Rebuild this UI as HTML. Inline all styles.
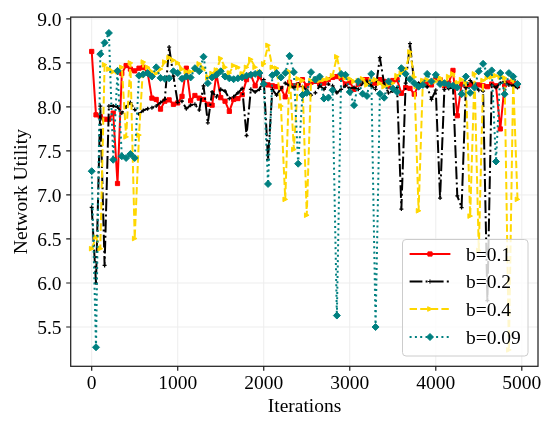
<!DOCTYPE html>
<html lang="en"><head><meta charset="utf-8"><title>Network Utility vs Iterations</title>
<style>html,body{margin:0;padding:0;background:#fff}body{width:550px;height:422px;overflow:hidden}svg{display:block}</style>
</head><body>
<svg width="550" height="422" viewBox="0 0 550 422">
<rect width="550" height="422" fill="#fff"/>
<path d="M91.7 17.1V366.3M177.72 17.1V366.3M263.74 17.1V366.3M349.76 17.1V366.3M435.78 17.1V366.3M521.8 17.1V366.3M70.7 18.9H538.0M70.7 62.91H538.0M70.7 106.93H538.0M70.7 150.95H538.0M70.7 194.96H538.0M70.7 238.97H538.0M70.7 282.99H538.0M70.7 327H538.0" stroke="#ededed" stroke-width="1" fill="none"/>
<clipPath id="c"><rect x="70.7" y="17.1" width="467.3" height="349.2"/></clipPath>
<g clip-path="url(#c)" fill="none" stroke-width="2" stroke-linejoin="round">
<polyline points="91.7,51.47 96,114.85 100.3,116.61 104.6,119.25 108.9,119.25 113.21,113.09 117.51,183.52 121.81,73.48 126.11,65.56 130.41,69.08 134.71,70.84 139.01,68.2 143.31,67.32 147.61,72.6 151.91,98.13 156.22,99.45 160.52,109.13 164.82,101.21 169.12,99.89 173.42,104.29 177.72,102.97 182.02,96.37 186.32,68.2 190.62,100.77 194.92,95.49 199.23,98.13 203.53,99.45 207.83,104.29 212.13,105.17 216.43,73.92 220.73,97.69 225.03,101.21 229.33,111.33 233.63,99.45 237.93,98.57 242.24,94.61 246.54,79.64 250.84,74.8 255.14,85.8 259.44,76.56 263.74,84.04 268.04,84.92 272.34,85.8 276.64,86.68 280.94,88.44 285.25,96.81 289.55,82.28 293.85,85.8 298.15,84.92 302.45,79.64 306.75,85.8 311.05,82.28 315.35,81.4 319.65,84.04 323.95,83.16 328.25,79.64 332.56,77.44 336.86,76.56 341.16,78.32 345.46,84.04 349.76,82.28 354.06,89.32 358.36,84.04 362.66,79.64 366.96,79.64 371.26,83.16 375.57,83.16 379.87,79.64 384.17,81.4 388.47,86.68 392.77,80.52 397.07,79.64 401.37,93.29 405.67,87.56 409.97,88.44 414.27,94.17 418.58,84.92 422.88,81.4 427.18,84.04 431.48,84.92 435.78,79.64 440.08,79.64 444.38,85.8 448.68,83.16 452.98,70.4 457.29,115.73 461.59,84.04 465.89,85.8 470.19,84.92 474.49,84.92 478.79,84.92 483.09,85.8 487.39,86.68 491.69,84.04 495.99,85.8 500.3,128.94 504.6,84.92 508.9,82.28 513.2,83.16 517.5,85.8" stroke="#ff0000"/>
<path d="M89.6 49.37h4.2v4.2h-4.2zM93.9 112.75h4.2v4.2h-4.2zM98.2 114.51h4.2v4.2h-4.2zM102.5 117.15h4.2v4.2h-4.2zM106.8 117.15h4.2v4.2h-4.2zM111.11 110.99h4.2v4.2h-4.2zM115.41 181.42h4.2v4.2h-4.2zM119.71 71.38h4.2v4.2h-4.2zM124.01 63.46h4.2v4.2h-4.2zM128.31 66.98h4.2v4.2h-4.2zM132.61 68.74h4.2v4.2h-4.2zM136.91 66.1h4.2v4.2h-4.2zM141.21 65.22h4.2v4.2h-4.2zM145.51 70.5h4.2v4.2h-4.2zM149.81 96.03h4.2v4.2h-4.2zM154.12 97.35h4.2v4.2h-4.2zM158.42 107.03h4.2v4.2h-4.2zM162.72 99.11h4.2v4.2h-4.2zM167.02 97.79h4.2v4.2h-4.2zM171.32 102.19h4.2v4.2h-4.2zM175.62 100.87h4.2v4.2h-4.2zM179.92 94.27h4.2v4.2h-4.2zM184.22 66.1h4.2v4.2h-4.2zM188.52 98.67h4.2v4.2h-4.2zM192.82 93.39h4.2v4.2h-4.2zM197.13 96.03h4.2v4.2h-4.2zM201.43 97.35h4.2v4.2h-4.2zM205.73 102.19h4.2v4.2h-4.2zM210.03 103.07h4.2v4.2h-4.2zM214.33 71.82h4.2v4.2h-4.2zM218.63 95.59h4.2v4.2h-4.2zM222.93 99.11h4.2v4.2h-4.2zM227.23 109.23h4.2v4.2h-4.2zM231.53 97.35h4.2v4.2h-4.2zM235.83 96.47h4.2v4.2h-4.2zM240.14 92.51h4.2v4.2h-4.2zM244.44 77.54h4.2v4.2h-4.2zM248.74 72.7h4.2v4.2h-4.2zM253.04 83.7h4.2v4.2h-4.2zM257.34 74.46h4.2v4.2h-4.2zM261.64 81.94h4.2v4.2h-4.2zM265.94 82.82h4.2v4.2h-4.2zM270.24 83.7h4.2v4.2h-4.2zM274.54 84.58h4.2v4.2h-4.2zM278.84 86.34h4.2v4.2h-4.2zM283.14 94.71h4.2v4.2h-4.2zM287.45 80.18h4.2v4.2h-4.2zM291.75 83.7h4.2v4.2h-4.2zM296.05 82.82h4.2v4.2h-4.2zM300.35 77.54h4.2v4.2h-4.2zM304.65 83.7h4.2v4.2h-4.2zM308.95 80.18h4.2v4.2h-4.2zM313.25 79.3h4.2v4.2h-4.2zM317.55 81.94h4.2v4.2h-4.2zM321.85 81.06h4.2v4.2h-4.2zM326.15 77.54h4.2v4.2h-4.2zM330.46 75.34h4.2v4.2h-4.2zM334.76 74.46h4.2v4.2h-4.2zM339.06 76.22h4.2v4.2h-4.2zM343.36 81.94h4.2v4.2h-4.2zM347.66 80.18h4.2v4.2h-4.2zM351.96 87.22h4.2v4.2h-4.2zM356.26 81.94h4.2v4.2h-4.2zM360.56 77.54h4.2v4.2h-4.2zM364.86 77.54h4.2v4.2h-4.2zM369.16 81.06h4.2v4.2h-4.2zM373.47 81.06h4.2v4.2h-4.2zM377.77 77.54h4.2v4.2h-4.2zM382.07 79.3h4.2v4.2h-4.2zM386.37 84.58h4.2v4.2h-4.2zM390.67 78.42h4.2v4.2h-4.2zM394.97 77.54h4.2v4.2h-4.2zM399.27 91.19h4.2v4.2h-4.2zM403.57 85.46h4.2v4.2h-4.2zM407.87 86.34h4.2v4.2h-4.2zM412.17 92.07h4.2v4.2h-4.2zM416.48 82.82h4.2v4.2h-4.2zM420.78 79.3h4.2v4.2h-4.2zM425.08 81.94h4.2v4.2h-4.2zM429.38 82.82h4.2v4.2h-4.2zM433.68 77.54h4.2v4.2h-4.2zM437.98 77.54h4.2v4.2h-4.2zM442.28 83.7h4.2v4.2h-4.2zM446.58 81.06h4.2v4.2h-4.2zM450.88 68.3h4.2v4.2h-4.2zM455.19 113.63h4.2v4.2h-4.2zM459.49 81.94h4.2v4.2h-4.2zM463.79 83.7h4.2v4.2h-4.2zM468.09 82.82h4.2v4.2h-4.2zM472.39 82.82h4.2v4.2h-4.2zM476.69 82.82h4.2v4.2h-4.2zM480.99 83.7h4.2v4.2h-4.2zM485.29 84.58h4.2v4.2h-4.2zM489.59 81.94h4.2v4.2h-4.2zM493.89 83.7h4.2v4.2h-4.2zM498.19 126.84h4.2v4.2h-4.2zM502.5 82.82h4.2v4.2h-4.2zM506.8 80.18h4.2v4.2h-4.2zM511.1 81.06h4.2v4.2h-4.2zM515.4 83.7h4.2v4.2h-4.2z" fill="#ff0000" stroke="#ff0000" stroke-width="1" stroke-linejoin="miter"/>
<polyline points="91.7,207.28 96,282.99 100.3,106.05 104.6,265.38 108.9,106.05 113.21,106.05 117.51,106.93 121.81,113.09 126.11,106.93 130.41,102.53 134.71,109.57 139.01,113.97 143.31,110.45 147.61,108.69 151.91,107.81 156.22,106.05 160.52,102.53 164.82,99.45 169.12,47.07 173.42,76.12 177.72,102.53 182.02,101.21 186.32,108.69 190.62,105.17 194.92,104.29 199.23,110.01 203.53,85.8 207.83,122.78 212.13,91.96 216.43,96.81 220.73,89.32 225.03,91.08 229.33,98.57 233.63,96.81 237.93,92.85 242.24,88.44 246.54,135.54 250.84,89.32 255.14,91.96 259.44,89.32 263.74,79.64 268.04,159.31 272.34,89.32 276.64,95.05 280.94,88.44 285.25,83.16 289.55,85.8 293.85,87.56 298.15,84.04 302.45,86.68 306.75,90.2 311.05,95.05 315.35,92.85 319.65,85.8 323.95,89.32 328.25,84.04 332.56,85.8 336.86,92.85 341.16,89.32 345.46,85.8 349.76,88.44 354.06,87.56 358.36,89.32 362.66,83.16 366.96,81.4 371.26,85.8 375.57,89.32 379.87,57.63 384.17,84.04 388.47,92.85 392.77,91.08 397.07,87.56 401.37,209.04 405.67,83.16 409.97,43.55 414.27,84.04 418.58,83.16 422.88,85.8 427.18,86.68 431.48,99.45 435.78,90.2 440.08,198.04 444.38,89.32 448.68,88.44 452.98,87.56 457.29,195.84 461.59,207.55 465.89,87.56 470.19,80.52 474.49,84.92 478.79,90.2 483.09,91.08 487.39,300.6 491.69,84.92 495.99,87.56 500.3,83.16 504.6,81.4 508.9,84.92 513.2,85.8 517.5,87.56" stroke="#000000" stroke-dasharray="12.8 3.2 2 3.2"/>
<path d="M89.7 207.28h4.0M91.7 205.28v4.0M94 282.99h4.0M96 280.99v4.0M98.3 106.05h4.0M100.3 104.05v4.0M102.6 265.38h4.0M104.6 263.38v4.0M106.9 106.05h4.0M108.9 104.05v4.0M111.21 106.05h4.0M113.21 104.05v4.0M115.51 106.93h4.0M117.51 104.93v4.0M119.81 113.09h4.0M121.81 111.09v4.0M124.11 106.93h4.0M126.11 104.93v4.0M128.41 102.53h4.0M130.41 100.53v4.0M132.71 109.57h4.0M134.71 107.57v4.0M137.01 113.97h4.0M139.01 111.97v4.0M141.31 110.45h4.0M143.31 108.45v4.0M145.61 108.69h4.0M147.61 106.69v4.0M149.91 107.81h4.0M151.91 105.81v4.0M154.22 106.05h4.0M156.22 104.05v4.0M158.52 102.53h4.0M160.52 100.53v4.0M162.82 99.45h4.0M164.82 97.45v4.0M167.12 47.07h4.0M169.12 45.07v4.0M171.42 76.12h4.0M173.42 74.12v4.0M175.72 102.53h4.0M177.72 100.53v4.0M180.02 101.21h4.0M182.02 99.21v4.0M184.32 108.69h4.0M186.32 106.69v4.0M188.62 105.17h4.0M190.62 103.17v4.0M192.92 104.29h4.0M194.92 102.29v4.0M197.23 110.01h4.0M199.23 108.01v4.0M201.53 85.8h4.0M203.53 83.8v4.0M205.83 122.78h4.0M207.83 120.78v4.0M210.13 91.96h4.0M212.13 89.96v4.0M214.43 96.81h4.0M216.43 94.81v4.0M218.73 89.32h4.0M220.73 87.32v4.0M223.03 91.08h4.0M225.03 89.08v4.0M227.33 98.57h4.0M229.33 96.57v4.0M231.63 96.81h4.0M233.63 94.81v4.0M235.93 92.85h4.0M237.93 90.85v4.0M240.24 88.44h4.0M242.24 86.44v4.0M244.54 135.54h4.0M246.54 133.54v4.0M248.84 89.32h4.0M250.84 87.32v4.0M253.14 91.96h4.0M255.14 89.96v4.0M257.44 89.32h4.0M259.44 87.32v4.0M261.74 79.64h4.0M263.74 77.64v4.0M266.04 159.31h4.0M268.04 157.31v4.0M270.34 89.32h4.0M272.34 87.32v4.0M274.64 95.05h4.0M276.64 93.05v4.0M278.94 88.44h4.0M280.94 86.44v4.0M283.25 83.16h4.0M285.25 81.16v4.0M287.55 85.8h4.0M289.55 83.8v4.0M291.85 87.56h4.0M293.85 85.56v4.0M296.15 84.04h4.0M298.15 82.04v4.0M300.45 86.68h4.0M302.45 84.68v4.0M304.75 90.2h4.0M306.75 88.2v4.0M309.05 95.05h4.0M311.05 93.05v4.0M313.35 92.85h4.0M315.35 90.85v4.0M317.65 85.8h4.0M319.65 83.8v4.0M321.95 89.32h4.0M323.95 87.32v4.0M326.25 84.04h4.0M328.25 82.04v4.0M330.56 85.8h4.0M332.56 83.8v4.0M334.86 92.85h4.0M336.86 90.85v4.0M339.16 89.32h4.0M341.16 87.32v4.0M343.46 85.8h4.0M345.46 83.8v4.0M347.76 88.44h4.0M349.76 86.44v4.0M352.06 87.56h4.0M354.06 85.56v4.0M356.36 89.32h4.0M358.36 87.32v4.0M360.66 83.16h4.0M362.66 81.16v4.0M364.96 81.4h4.0M366.96 79.4v4.0M369.26 85.8h4.0M371.26 83.8v4.0M373.57 89.32h4.0M375.57 87.32v4.0M377.87 57.63h4.0M379.87 55.63v4.0M382.17 84.04h4.0M384.17 82.04v4.0M386.47 92.85h4.0M388.47 90.85v4.0M390.77 91.08h4.0M392.77 89.08v4.0M395.07 87.56h4.0M397.07 85.56v4.0M399.37 209.04h4.0M401.37 207.04v4.0M403.67 83.16h4.0M405.67 81.16v4.0M407.97 43.55h4.0M409.97 41.55v4.0M412.27 84.04h4.0M414.27 82.04v4.0M416.58 83.16h4.0M418.58 81.16v4.0M420.88 85.8h4.0M422.88 83.8v4.0M425.18 86.68h4.0M427.18 84.68v4.0M429.48 99.45h4.0M431.48 97.45v4.0M433.78 90.2h4.0M435.78 88.2v4.0M438.08 198.04h4.0M440.08 196.04v4.0M442.38 89.32h4.0M444.38 87.32v4.0M446.68 88.44h4.0M448.68 86.44v4.0M450.98 87.56h4.0M452.98 85.56v4.0M455.29 195.84h4.0M457.29 193.84v4.0M459.59 207.55h4.0M461.59 205.55v4.0M463.89 87.56h4.0M465.89 85.56v4.0M468.19 80.52h4.0M470.19 78.52v4.0M472.49 84.92h4.0M474.49 82.92v4.0M476.79 90.2h4.0M478.79 88.2v4.0M481.09 91.08h4.0M483.09 89.08v4.0M485.39 300.6h4.0M487.39 298.6v4.0M489.69 84.92h4.0M491.69 82.92v4.0M493.99 87.56h4.0M495.99 85.56v4.0M498.3 83.16h4.0M500.3 81.16v4.0M502.6 81.4h4.0M504.6 79.4v4.0M506.9 84.92h4.0M508.9 82.92v4.0M511.2 85.8h4.0M513.2 83.8v4.0M515.5 87.56h4.0M517.5 85.56v4.0" stroke="#000000" stroke-width="1.2"/>
<polyline points="91.7,248.66 96,237.21 100.3,248.66 104.6,64.68 108.9,69.08 113.21,71.72 117.51,71.72 121.81,67.32 126.11,136.86 130.41,62.91 134.71,238.53 139.01,135.1 143.31,62.03 147.61,67.32 151.91,71.72 156.22,73.48 160.52,69.08 164.82,62.03 169.12,57.63 173.42,60.27 177.72,62.91 182.02,69.08 186.32,71.72 190.62,71.72 194.92,69.96 199.23,63.8 203.53,68.2 207.83,77.88 212.13,73.48 216.43,69.96 220.73,58.51 225.03,67.32 229.33,73.04 233.63,65.56 237.93,67.32 242.24,73.92 246.54,67.32 250.84,59.39 255.14,67.32 259.44,73.04 263.74,63.8 268.04,45.31 272.34,67.32 276.64,68.2 280.94,106.05 285.25,199.36 289.55,71.72 293.85,149.45 298.15,78.76 302.45,80.52 306.75,215.21 311.05,80.52 315.35,79.64 319.65,80.52 323.95,79.64 328.25,78.76 332.56,75.68 336.86,56.75 341.16,76.12 345.46,77.88 349.76,78.76 354.06,81.4 358.36,80.52 362.66,78.76 366.96,84.92 371.26,80.52 375.57,79.64 379.87,83.16 384.17,86.68 388.47,84.92 392.77,83.16 397.07,75.68 401.37,73.04 405.67,69.08 409.97,51.91 414.27,77 418.58,210.81 422.88,80.52 427.18,79.64 431.48,82.28 435.78,81.4 440.08,77.88 444.38,84.04 448.68,76.56 452.98,73.92 457.29,83.16 461.59,79.64 465.89,82.28 470.19,216.09 474.49,73.92 478.79,250.42 483.09,80.52 487.39,77.88 491.69,77 495.99,75.68 500.3,77 504.6,77.88 508.9,349.89 513.2,79.64 517.5,199.36" stroke="#ffd700" stroke-dasharray="7.4 3.2"/>
<path d="M89.4 246.36L94 248.66L89.4 250.96zM93.7 234.91L98.3 237.21L93.7 239.51zM98 246.36L102.6 248.66L98 250.96zM102.3 62.38L106.9 64.68L102.3 66.98zM106.6 66.78L111.2 69.08L106.6 71.38zM110.91 69.42L115.51 71.72L110.91 74.02zM115.21 69.42L119.81 71.72L115.21 74.02zM119.51 65.02L124.11 67.32L119.51 69.62zM123.81 134.56L128.41 136.86L123.81 139.16zM128.11 60.62L132.71 62.91L128.11 65.22zM132.41 236.23L137.01 238.53L132.41 240.83zM136.71 132.8L141.31 135.1L136.71 137.4zM141.01 59.73L145.61 62.03L141.01 64.33zM145.31 65.02L149.91 67.32L145.31 69.62zM149.61 69.42L154.21 71.72L149.61 74.02zM153.91 71.18L158.52 73.48L153.91 75.78zM158.22 66.78L162.82 69.08L158.22 71.38zM162.52 59.73L167.12 62.03L162.52 64.33zM166.82 55.33L171.42 57.63L166.82 59.93zM171.12 57.97L175.72 60.27L171.12 62.57zM175.42 60.62L180.02 62.91L175.42 65.22zM179.72 66.78L184.32 69.08L179.72 71.38zM184.02 69.42L188.62 71.72L184.02 74.02zM188.32 69.42L192.92 71.72L188.32 74.02zM192.62 67.66L197.22 69.96L192.62 72.26zM196.93 61.5L201.53 63.8L196.93 66.1zM201.23 65.9L205.83 68.2L201.23 70.5zM205.53 75.58L210.13 77.88L205.53 80.18zM209.83 71.18L214.43 73.48L209.83 75.78zM214.13 67.66L218.73 69.96L214.13 72.26zM218.43 56.21L223.03 58.51L218.43 60.81zM222.73 65.02L227.33 67.32L222.73 69.62zM227.03 70.74L231.63 73.04L227.03 75.34zM231.33 63.26L235.93 65.56L231.33 67.86zM235.63 65.02L240.23 67.32L235.63 69.62zM239.94 71.62L244.54 73.92L239.94 76.22zM244.24 65.02L248.84 67.32L244.24 69.62zM248.54 57.09L253.14 59.39L248.54 61.69zM252.84 65.02L257.44 67.32L252.84 69.62zM257.14 70.74L261.74 73.04L257.14 75.34zM261.44 61.5L266.04 63.8L261.44 66.1zM265.74 43.01L270.34 45.31L265.74 47.61zM270.04 65.02L274.64 67.32L270.04 69.62zM274.34 65.9L278.94 68.2L274.34 70.5zM278.64 103.75L283.24 106.05L278.64 108.35zM282.94 197.06L287.55 199.36L282.94 201.66zM287.25 69.42L291.85 71.72L287.25 74.02zM291.55 147.15L296.15 149.45L291.55 151.75zM295.85 76.46L300.45 78.76L295.85 81.06zM300.15 78.22L304.75 80.52L300.15 82.82zM304.45 212.91L309.05 215.21L304.45 217.51zM308.75 78.22L313.35 80.52L308.75 82.82zM313.05 77.34L317.65 79.64L313.05 81.94zM317.35 78.22L321.95 80.52L317.35 82.82zM321.65 77.34L326.25 79.64L321.65 81.94zM325.95 76.46L330.56 78.76L325.95 81.06zM330.26 73.38L334.86 75.68L330.26 77.98zM334.56 54.45L339.16 56.75L334.56 59.05zM338.86 73.82L343.46 76.12L338.86 78.42zM343.16 75.58L347.76 77.88L343.16 80.18zM347.46 76.46L352.06 78.76L347.46 81.06zM351.76 79.1L356.36 81.4L351.76 83.7zM356.06 78.22L360.66 80.52L356.06 82.82zM360.36 76.46L364.96 78.76L360.36 81.06zM364.66 82.62L369.26 84.92L364.66 87.22zM368.96 78.22L373.56 80.52L368.96 82.82zM373.27 77.34L377.87 79.64L373.27 81.94zM377.57 80.86L382.17 83.16L377.57 85.46zM381.87 84.38L386.47 86.68L381.87 88.98zM386.17 82.62L390.77 84.92L386.17 87.22zM390.47 80.86L395.07 83.16L390.47 85.46zM394.77 73.38L399.37 75.68L394.77 77.98zM399.07 70.74L403.67 73.04L399.07 75.34zM403.37 66.78L407.97 69.08L403.37 71.38zM407.67 49.61L412.27 51.91L407.67 54.21zM411.97 74.7L416.57 77L411.97 79.3zM416.28 208.51L420.88 210.81L416.28 213.11zM420.58 78.22L425.18 80.52L420.58 82.82zM424.88 77.34L429.48 79.64L424.88 81.94zM429.18 79.98L433.78 82.28L429.18 84.58zM433.48 79.1L438.08 81.4L433.48 83.7zM437.78 75.58L442.38 77.88L437.78 80.18zM442.08 81.74L446.68 84.04L442.08 86.34zM446.38 74.26L450.98 76.56L446.38 78.86zM450.68 71.62L455.28 73.92L450.68 76.22zM454.99 80.86L459.59 83.16L454.99 85.46zM459.29 77.34L463.89 79.64L459.29 81.94zM463.59 79.98L468.19 82.28L463.59 84.58zM467.89 213.79L472.49 216.09L467.89 218.39zM472.19 71.62L476.79 73.92L472.19 76.22zM476.49 248.12L481.09 250.42L476.49 252.72zM480.79 78.22L485.39 80.52L480.79 82.82zM485.09 75.58L489.69 77.88L485.09 80.18zM489.39 74.7L493.99 77L489.39 79.3zM493.69 73.38L498.29 75.68L493.69 77.98zM498 74.7L502.6 77L498 79.3zM502.3 75.58L506.9 77.88L502.3 80.18zM506.6 347.59L511.2 349.89L506.6 352.19zM510.9 77.34L515.5 79.64L510.9 81.94zM515.2 197.06L519.8 199.36L515.2 201.66z" fill="#ffd700" stroke="#ffd700" stroke-width="1" stroke-linejoin="miter"/>
<polyline points="91.7,171.19 96,347.25 100.3,54.11 104.6,42.67 108.9,32.98 113.21,159.75 117.51,70.84 121.81,156.23 126.11,157.99 130.41,154.03 134.71,157.99 139.01,75.68 143.31,74.36 147.61,73.04 151.91,76.56 156.22,67.32 160.52,77.88 164.82,78.76 169.12,78.32 173.42,71.28 177.72,73.04 182.02,78.76 186.32,76.56 190.62,77.44 194.92,68.2 199.23,71.28 203.53,56.75 207.83,83.16 212.13,77.44 216.43,74.8 220.73,71.28 225.03,76.56 229.33,78.32 233.63,79.2 237.93,78.32 242.24,77.44 246.54,75.68 250.84,74.8 255.14,73.92 259.44,73.04 263.74,84.04 268.04,183.96 272.34,75.24 276.64,73.04 280.94,77.44 285.25,73.04 289.55,55.87 293.85,72.16 298.15,163.71 302.45,95.05 306.75,92.85 311.05,72.16 315.35,79.64 319.65,76.56 323.95,98.57 328.25,97.69 332.56,90.2 336.86,315.56 341.16,73.92 345.46,74.8 349.76,91.96 354.06,105.17 358.36,81.4 362.66,93.73 366.96,95.93 371.26,73.92 375.57,327 379.87,93.73 384.17,97.69 388.47,81.4 392.77,88.44 397.07,91.96 401.37,68.2 405.67,73.92 409.97,79.2 414.27,83.16 418.58,86.68 422.88,84.92 427.18,73.92 431.48,81.4 435.78,74.8 440.08,84.04 444.38,83.16 448.68,84.92 452.98,85.8 457.29,87.56 461.59,94.17 465.89,76.56 470.19,92.85 474.49,87.56 478.79,71.28 483.09,63.8 487.39,73.92 491.69,70.4 495.99,161.51 500.3,73.04 504.6,94.17 508.9,73.04 513.2,76.56 517.5,84.04" stroke="#008080" stroke-dasharray="2 3.3"/>
<path d="M91.7 167.69L95.2 171.19L91.7 174.69L88.2 171.19zM96 343.75L99.5 347.25L96 350.75L92.5 347.25zM100.3 50.61L103.8 54.11L100.3 57.61L96.8 54.11zM104.6 39.17L108.1 42.67L104.6 46.17L101.1 42.67zM108.9 29.48L112.4 32.98L108.9 36.48L105.4 32.98zM113.21 156.25L116.71 159.75L113.21 163.25L109.71 159.75zM117.51 67.34L121.01 70.84L117.51 74.34L114.01 70.84zM121.81 152.73L125.31 156.23L121.81 159.73L118.31 156.23zM126.11 154.49L129.61 157.99L126.11 161.49L122.61 157.99zM130.41 150.53L133.91 154.03L130.41 157.53L126.91 154.03zM134.71 154.49L138.21 157.99L134.71 161.49L131.21 157.99zM139.01 72.18L142.51 75.68L139.01 79.18L135.51 75.68zM143.31 70.86L146.81 74.36L143.31 77.86L139.81 74.36zM147.61 69.54L151.11 73.04L147.61 76.54L144.11 73.04zM151.91 73.06L155.41 76.56L151.91 80.06L148.41 76.56zM156.22 63.82L159.72 67.32L156.22 70.82L152.72 67.32zM160.52 74.38L164.02 77.88L160.52 81.38L157.02 77.88zM164.82 75.26L168.32 78.76L164.82 82.26L161.32 78.76zM169.12 74.82L172.62 78.32L169.12 81.82L165.62 78.32zM173.42 67.78L176.92 71.28L173.42 74.78L169.92 71.28zM177.72 69.54L181.22 73.04L177.72 76.54L174.22 73.04zM182.02 75.26L185.52 78.76L182.02 82.26L178.52 78.76zM186.32 73.06L189.82 76.56L186.32 80.06L182.82 76.56zM190.62 73.94L194.12 77.44L190.62 80.94L187.12 77.44zM194.92 64.7L198.42 68.2L194.92 71.7L191.42 68.2zM199.23 67.78L202.73 71.28L199.23 74.78L195.73 71.28zM203.53 53.25L207.03 56.75L203.53 60.25L200.03 56.75zM207.83 79.66L211.33 83.16L207.83 86.66L204.33 83.16zM212.13 73.94L215.63 77.44L212.13 80.94L208.63 77.44zM216.43 71.3L219.93 74.8L216.43 78.3L212.93 74.8zM220.73 67.78L224.23 71.28L220.73 74.78L217.23 71.28zM225.03 73.06L228.53 76.56L225.03 80.06L221.53 76.56zM229.33 74.82L232.83 78.32L229.33 81.82L225.83 78.32zM233.63 75.7L237.13 79.2L233.63 82.7L230.13 79.2zM237.93 74.82L241.43 78.32L237.93 81.82L234.43 78.32zM242.24 73.94L245.74 77.44L242.24 80.94L238.74 77.44zM246.54 72.18L250.04 75.68L246.54 79.18L243.04 75.68zM250.84 71.3L254.34 74.8L250.84 78.3L247.34 74.8zM255.14 70.42L258.64 73.92L255.14 77.42L251.64 73.92zM259.44 69.54L262.94 73.04L259.44 76.54L255.94 73.04zM263.74 80.54L267.24 84.04L263.74 87.54L260.24 84.04zM268.04 180.46L271.54 183.96L268.04 187.46L264.54 183.96zM272.34 71.74L275.84 75.24L272.34 78.74L268.84 75.24zM276.64 69.54L280.14 73.04L276.64 76.54L273.14 73.04zM280.94 73.94L284.44 77.44L280.94 80.94L277.44 77.44zM285.25 69.54L288.75 73.04L285.25 76.54L281.75 73.04zM289.55 52.37L293.05 55.87L289.55 59.37L286.05 55.87zM293.85 68.66L297.35 72.16L293.85 75.66L290.35 72.16zM298.15 160.21L301.65 163.71L298.15 167.21L294.65 163.71zM302.45 91.55L305.95 95.05L302.45 98.55L298.95 95.05zM306.75 89.35L310.25 92.85L306.75 96.35L303.25 92.85zM311.05 68.66L314.55 72.16L311.05 75.66L307.55 72.16zM315.35 76.14L318.85 79.64L315.35 83.14L311.85 79.64zM319.65 73.06L323.15 76.56L319.65 80.06L316.15 76.56zM323.95 95.07L327.45 98.57L323.95 102.07L320.45 98.57zM328.25 94.19L331.75 97.69L328.25 101.19L324.75 97.69zM332.56 86.7L336.06 90.2L332.56 93.7L329.06 90.2zM336.86 312.06L340.36 315.56L336.86 319.06L333.36 315.56zM341.16 70.42L344.66 73.92L341.16 77.42L337.66 73.92zM345.46 71.3L348.96 74.8L345.46 78.3L341.96 74.8zM349.76 88.46L353.26 91.96L349.76 95.46L346.26 91.96zM354.06 101.67L357.56 105.17L354.06 108.67L350.56 105.17zM358.36 77.9L361.86 81.4L358.36 84.9L354.86 81.4zM362.66 90.23L366.16 93.73L362.66 97.23L359.16 93.73zM366.96 92.43L370.46 95.93L366.96 99.43L363.46 95.93zM371.26 70.42L374.76 73.92L371.26 77.42L367.76 73.92zM375.57 323.5L379.07 327L375.57 330.5L372.07 327zM379.87 90.23L383.37 93.73L379.87 97.23L376.37 93.73zM384.17 94.19L387.67 97.69L384.17 101.19L380.67 97.69zM388.47 77.9L391.97 81.4L388.47 84.9L384.97 81.4zM392.77 84.94L396.27 88.44L392.77 91.94L389.27 88.44zM397.07 88.46L400.57 91.96L397.07 95.46L393.57 91.96zM401.37 64.7L404.87 68.2L401.37 71.7L397.87 68.2zM405.67 70.42L409.17 73.92L405.67 77.42L402.17 73.92zM409.97 75.7L413.47 79.2L409.97 82.7L406.47 79.2zM414.27 79.66L417.77 83.16L414.27 86.66L410.77 83.16zM418.58 83.18L422.08 86.68L418.58 90.18L415.08 86.68zM422.88 81.42L426.38 84.92L422.88 88.42L419.38 84.92zM427.18 70.42L430.68 73.92L427.18 77.42L423.68 73.92zM431.48 77.9L434.98 81.4L431.48 84.9L427.98 81.4zM435.78 71.3L439.28 74.8L435.78 78.3L432.28 74.8zM440.08 80.54L443.58 84.04L440.08 87.54L436.58 84.04zM444.38 79.66L447.88 83.16L444.38 86.66L440.88 83.16zM448.68 81.42L452.18 84.92L448.68 88.42L445.18 84.92zM452.98 82.3L456.48 85.8L452.98 89.3L449.48 85.8zM457.29 84.06L460.79 87.56L457.29 91.06L453.79 87.56zM461.59 90.67L465.09 94.17L461.59 97.67L458.09 94.17zM465.89 73.06L469.39 76.56L465.89 80.06L462.39 76.56zM470.19 89.35L473.69 92.85L470.19 96.35L466.69 92.85zM474.49 84.06L477.99 87.56L474.49 91.06L470.99 87.56zM478.79 67.78L482.29 71.28L478.79 74.78L475.29 71.28zM483.09 60.3L486.59 63.8L483.09 67.3L479.59 63.8zM487.39 70.42L490.89 73.92L487.39 77.42L483.89 73.92zM491.69 66.9L495.19 70.4L491.69 73.9L488.19 70.4zM495.99 158.01L499.49 161.51L495.99 165.01L492.49 161.51zM500.3 69.54L503.8 73.04L500.3 76.54L496.8 73.04zM504.6 90.67L508.1 94.17L504.6 97.67L501.1 94.17zM508.9 69.54L512.4 73.04L508.9 76.54L505.4 73.04zM513.2 73.06L516.7 76.56L513.2 80.06L509.7 76.56zM517.5 80.54L521 84.04L517.5 87.54L514 84.04z" fill="#008080" stroke="#008080" stroke-width="1" stroke-linejoin="miter"/>
</g>
<rect x="70.7" y="17.1" width="467.3" height="349.2" fill="none" stroke="#222" stroke-width="1.25"/>
<path d="M91.7 366.3v4.5M177.72 366.3v4.5M263.74 366.3v4.5M349.76 366.3v4.5M435.78 366.3v4.5M521.8 366.3v4.5M70.7 18.9h-4.5M70.7 62.91h-4.5M70.7 106.93h-4.5M70.7 150.95h-4.5M70.7 194.96h-4.5M70.7 238.97h-4.5M70.7 282.99h-4.5M70.7 327h-4.5" stroke="#1a1a1a" stroke-width="1.2" fill="none"/>
<g font-family="'Liberation Serif', 'Times New Roman', serif" font-size="19.5" fill="#000">
<text x="91.7" y="388.8" text-anchor="middle">0</text>
<text x="177.72" y="388.8" text-anchor="middle">1000</text>
<text x="263.74" y="388.8" text-anchor="middle">2000</text>
<text x="349.76" y="388.8" text-anchor="middle">3000</text>
<text x="435.78" y="388.8" text-anchor="middle">4000</text>
<text x="521.8" y="388.8" text-anchor="middle">5000</text>
<text x="61.6" y="26" text-anchor="end">9.0</text>
<text x="61.6" y="70.02" text-anchor="end">8.5</text>
<text x="61.6" y="114.03" text-anchor="end">8.0</text>
<text x="61.6" y="158.05" text-anchor="end">7.5</text>
<text x="61.6" y="202.06" text-anchor="end">7.0</text>
<text x="61.6" y="246.07" text-anchor="end">6.5</text>
<text x="61.6" y="290.09" text-anchor="end">6.0</text>
<text x="61.6" y="334.11" text-anchor="end">5.5</text>
<text x="304.5" y="411.8" text-anchor="middle" font-size="19.45">Iterations</text>
<text transform="translate(26.5,191.6) rotate(-90)" text-anchor="middle" font-size="19.7">Network Utility</text>
</g>
<rect x="402.5" y="239.5" width="125.5" height="116.5" rx="3.5" fill="#fff" fill-opacity="0.8" stroke="#ccc" stroke-width="1"/>
<g fill="none" stroke-width="2">
<path d="M409.6 254H450.4" stroke="#ff0000"/>
<path d="M427.9 251.9h4.2v4.2h-4.2z" fill="#ff0000" stroke="#ff0000" stroke-width="1"/>
<path d="M409.6 281.5H450.4" stroke="#000000" stroke-dasharray="12.8 3.2 2 3.2"/>
<path d="M428 281.5h4M430 279.5v4" stroke="#000000" stroke-width="1.2"/>
<path d="M409.6 309H450.4" stroke="#ffd700" stroke-dasharray="7.4 3.2"/>
<path d="M427.7 306.7L432.3 309L427.7 311.3z" fill="#ffd700" stroke="#ffd700" stroke-width="1"/>
<path d="M409.6 337H450.4" stroke="#008080" stroke-dasharray="2 3.3"/>
<path d="M430 333.5L433.5 337L430 340.5L426.5 337z" fill="#008080" stroke="#008080" stroke-width="1"/>
</g>
<g font-family="'Liberation Serif', 'Times New Roman', serif" font-size="19.5" fill="#000">
<text x="466" y="260.5">b=0.1</text>
<text x="466" y="288.0">b=0.2</text>
<text x="466" y="315.5">b=0.4</text>
<text x="466" y="343.5">b=0.09</text>
</g>
</svg>
</body></html>
